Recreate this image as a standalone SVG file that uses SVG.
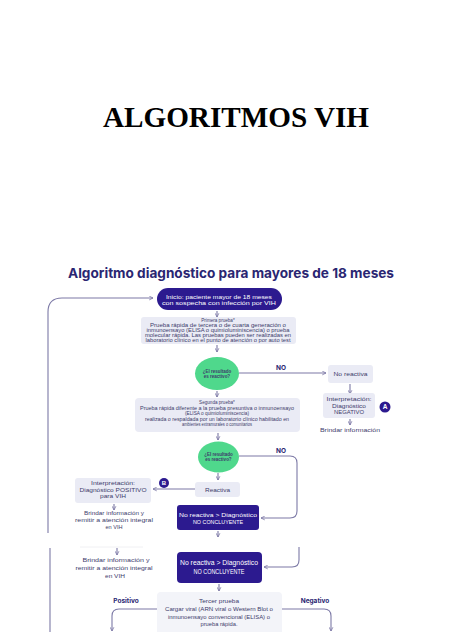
<svg xmlns="http://www.w3.org/2000/svg" width="474" height="632" viewBox="0 0 474 632">
<style>
.t{font-family:"Liberation Sans",Arial,sans-serif;fill:#3d3b6b;text-anchor:middle}
.w{font-family:"Liberation Sans",Arial,sans-serif;fill:#ffffff;text-anchor:middle}
.lb{fill:#eaebf5}
.dk{fill:#2c1a8f}
.gr{fill:#4fd88c}
.ln{fill:none;stroke:#7c79a6;stroke-width:1.1}
.lab{font-family:"Inter","Liberation Sans",sans-serif;font-weight:bold;fill:#2a2672;text-anchor:middle}
</style>
<defs>
<marker id="ah" viewBox="0 0 8 8" refX="7" refY="4" markerWidth="5" markerHeight="5" orient="auto" markerUnits="userSpaceOnUse">
<path d="M1,1 L7,4 L1,7" fill="none" stroke="#7c79a6" stroke-width="1.3"/>
</marker>
</defs>
<rect width="474" height="632" fill="#ffffff"/>
<text x="236" y="127" font-family="'Liberation Serif','Times New Roman',serif" font-weight="bold" font-size="29" text-anchor="middle" fill="#000" textLength="266" lengthAdjust="spacingAndGlyphs">ALGORITMOS VIH</text>
<text x="68" y="278" font-family="Inter,'Liberation Sans',sans-serif" font-weight="bold" font-size="13.5" fill="#2a2672" textLength="326" lengthAdjust="spacingAndGlyphs">Algoritmo diagnóstico para mayores de 18 meses</text>

<g id="connectors">
<path class="ln" d="M48,533 V312 Q48,298 62,298 H153" marker-end="url(#ah)"/>
<path class="ln" d="M50,548 V632"/>
<line x1="80" y1="547" x2="143" y2="547" stroke="#ececf0" stroke-width="0.8"/>
<path class="ln" d="M217,311 V317" marker-end="url(#ah)"/>
<path class="ln" d="M217,345 V352" marker-end="url(#ah)"/>
<path class="ln" d="M239,373 H326" marker-end="url(#ah)"/>
<path class="ln" d="M350,384 V394" marker-end="url(#ah)"/>
<path class="ln" d="M350,419 V425" marker-end="url(#ah)"/>
<path class="ln" d="M217,391 V397" marker-end="url(#ah)"/>
<path class="ln" d="M218,433 V440" marker-end="url(#ah)"/>
<path class="ln" d="M239,456 H290 Q297,456 297,463 V511 Q297,518 290,518 H261" marker-end="url(#ah)"/>
<path class="ln" d="M218,473 V480" marker-end="url(#ah)"/>
<path class="ln" d="M195,489 H153" marker-end="url(#ah)"/>
<path class="ln" d="M114,504 V510" marker-end="url(#ah)"/>
<path class="ln" d="M218,531 V537" marker-end="url(#ah)"/>
<path class="ln" d="M117,548 V555" marker-end="url(#ah)"/>
<path class="ln" d="M299,547 V560 Q299,567 292,567 H264" marker-end="url(#ah)"/>
<path class="ln" d="M219,584 V591" marker-end="url(#ah)"/>
<path class="ln" d="M157,609 H119 Q112,609 112,616 V631" marker-end="url(#ah)"/>
<path class="ln" d="M282,609 H324 Q331,609 331,616 V631" marker-end="url(#ah)"/>
<path class="ln" d="M219,627 V632"/>
</g>

<text class="lab" x="281" y="370" font-size="6.5">NO</text>
<text class="lab" x="281" y="453" font-size="6.5">NO</text>
<text class="lab" x="126" y="603" font-size="6.5">Positivo</text>
<text class="lab" x="315" y="603" font-size="6.5">Negativo</text>

<g id="inicio">
<rect class="dk" x="157" y="288" width="125" height="22" rx="11"/>
<text class="w" x="219" y="298.5" font-size="5.8" textLength="106" lengthAdjust="spacingAndGlyphs">Inicio: paciente mayor de 18 meses</text>
<text class="w" x="219" y="305" font-size="5.8" textLength="114" lengthAdjust="spacingAndGlyphs">con sospecha con infección por VIH</text>
</g>

<g id="primera">
<rect class="lb" x="141" y="317" width="155" height="27" rx="3"/>
<text class="t" x="218" y="321.5" font-size="4.6">Primera prueba*</text>
<text class="t" x="218" y="326.5" font-size="4.6" textLength="136" lengthAdjust="spacingAndGlyphs">Prueba rápida de tercera o de cuarta generación o</text>
<text class="t" x="218" y="331.5" font-size="4.6" textLength="143" lengthAdjust="spacingAndGlyphs">inmunoensayo (ELISA o quimioluminiscencia) o prueba</text>
<text class="t" x="218" y="336.5" font-size="4.6" textLength="146" lengthAdjust="spacingAndGlyphs">molecular rápida. Las pruebas pueden ser realizadas en</text>
<text class="t" x="218" y="341.5" font-size="4.6" textLength="145" lengthAdjust="spacingAndGlyphs">laboratorio clínico en el punto de atención o por auto test</text>
</g>

<g id="decision1">
<ellipse class="gr" cx="217" cy="373.5" rx="22" ry="16.5"/>
<text class="t" x="217" y="372.5" font-size="4.5" font-weight="bold" fill="#1f2a3a">¿El resultado</text>
<text class="t" x="217" y="377.5" font-size="4.5" font-weight="bold" fill="#1f2a3a">es reactivo?</text>
</g>

<g id="noreactiva1">
<rect class="lb" x="328" y="365" width="45" height="18" rx="3"/>
<text class="t" x="350.5" y="376" font-size="6" textLength="34" lengthAdjust="spacingAndGlyphs">No reactiva</text>
</g>

<g id="negativo">
<rect class="lb" x="323" y="393" width="52" height="25" rx="3"/>
<text class="t" x="349" y="401" font-size="6" textLength="45" lengthAdjust="spacingAndGlyphs">Interpretación:</text>
<text class="t" x="349" y="407.5" font-size="6" textLength="34" lengthAdjust="spacingAndGlyphs">Diagnóstico</text>
<text class="t" x="349" y="414" font-size="6" textLength="30" lengthAdjust="spacingAndGlyphs">NEGATIVO</text>
</g>
<g id="badgeA">
<circle class="dk" cx="385" cy="407" r="5.5"/>
<text class="w" x="385" y="409.3" font-size="6.5" font-weight="bold">A</text>
</g>
<g id="brindar1">
<text class="t" x="350" y="432" font-size="6" textLength="60" lengthAdjust="spacingAndGlyphs">Brindar información</text>
</g>

<g id="segunda">
<rect class="lb" x="135" y="398" width="165" height="34" rx="4"/>
<text class="t" x="217" y="404" font-size="4.6">Segunda prueba*</text>
<text class="t" x="217" y="409.5" font-size="4.6" textLength="154" lengthAdjust="spacingAndGlyphs">Prueba rápida diferente a la prueba presuntiva o inmunoensayo</text>
<text class="t" x="217" y="415" font-size="4.6" textLength="64" lengthAdjust="spacingAndGlyphs">(ELISA o quimioluminiscencia)</text>
<text class="t" x="217" y="420.5" font-size="4.6" textLength="144" lengthAdjust="spacingAndGlyphs">realizada o respaldada por un laboratorio clínico habilitado en</text>
<text class="t" x="217" y="426" font-size="4.6" textLength="70" lengthAdjust="spacingAndGlyphs">ambientes extramurales o comunitarios</text>
</g>

<g id="decision2">
<ellipse class="gr" cx="218.5" cy="457" rx="20.5" ry="15.5"/>
<text class="t" x="218.5" y="456" font-size="4.5" font-weight="bold" fill="#1f2a3a">¿El resultado</text>
<text class="t" x="218.5" y="461" font-size="4.5" font-weight="bold" fill="#1f2a3a">es reactivo?</text>
</g>

<g id="reactiva">
<rect class="lb" x="195" y="482" width="45" height="15" rx="3"/>
<text class="t" x="217.5" y="491.5" font-size="6" textLength="25" lengthAdjust="spacingAndGlyphs">Reactiva</text>
</g>
<g id="badgeB">
<circle class="dk" cx="164" cy="483" r="5"/>
<text class="w" x="164" y="485.2" font-size="6" font-weight="bold">B</text>
</g>

<g id="positivo">
<rect class="lb" x="75" y="478" width="76" height="25" rx="3"/>
<text class="t" x="113" y="485" font-size="6" textLength="44" lengthAdjust="spacingAndGlyphs">Interpretación:</text>
<text class="t" x="113" y="491.5" font-size="6" textLength="67" lengthAdjust="spacingAndGlyphs">Diagnóstico POSITIVO</text>
<text class="t" x="113" y="498" font-size="6" textLength="26" lengthAdjust="spacingAndGlyphs">para VIH</text>
</g>

<g id="brindar2">
<text class="t" x="114" y="515" font-size="6" textLength="60" lengthAdjust="spacingAndGlyphs">Brindar información y</text>
<text class="t" x="114" y="522" font-size="6" textLength="78" lengthAdjust="spacingAndGlyphs">remitir a atención integral</text>
<text class="t" x="114" y="529" font-size="6" textLength="17" lengthAdjust="spacingAndGlyphs">en VIH</text>
</g>

<g id="noconcluyente1">
<rect class="dk" x="177" y="505" width="82" height="25" rx="3"/>
<text class="w" x="218" y="516.5" font-size="6.2" textLength="78" lengthAdjust="spacingAndGlyphs">No reactiva &gt; Diagnóstico</text>
<text class="w" x="218" y="523.5" font-size="6.2" textLength="50" lengthAdjust="spacingAndGlyphs">NO CONCLUYENTE</text>
</g>

<g id="brindar3">
<text class="t" x="116" y="562" font-size="6.2" textLength="67" lengthAdjust="spacingAndGlyphs">Brindar información y</text>
<text class="t" x="114" y="570" font-size="6.2" textLength="77" lengthAdjust="spacingAndGlyphs">remitir a atención integral</text>
<text class="t" x="115" y="578" font-size="6.2" textLength="20" lengthAdjust="spacingAndGlyphs">en VIH</text>
</g>

<g id="noconcluyente2">
<rect class="dk" x="177" y="552" width="85" height="31" rx="4"/>
<text class="w" x="219" y="565" font-size="6.6" textLength="78" lengthAdjust="spacingAndGlyphs">No reactiva &gt; Diagnóstico</text>
<text class="w" x="219" y="573.5" font-size="6.6" textLength="51" lengthAdjust="spacingAndGlyphs">NO CONCLUYENTE</text>
</g>

<g id="tercera">
<rect x="157" y="592" width="125" height="48" rx="4" fill="#f3f4f9"/>
<text class="t" x="219" y="603" font-size="5.8" textLength="40" lengthAdjust="spacingAndGlyphs">Tercer prueba</text>
<text class="t" x="219" y="611" font-size="5.8" textLength="108" lengthAdjust="spacingAndGlyphs">Cargar viral (ARN viral o Western Blot o</text>
<text class="t" x="219" y="618.5" font-size="5.8" textLength="102" lengthAdjust="spacingAndGlyphs">inmunoensayo convencional (ELISA) o</text>
<text class="t" x="219" y="626" font-size="5.8" textLength="37" lengthAdjust="spacingAndGlyphs">prueba rápida.</text>
</g>
</svg>
